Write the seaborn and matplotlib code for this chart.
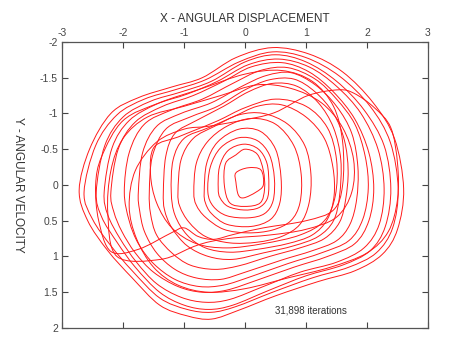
import numpy as np
import matplotlib
matplotlib.use('Agg')
import matplotlib.pyplot as plt
from matplotlib.path import Path
from matplotlib.patches import PathPatch
import seaborn as sns

# axis ticks / labels
x_ticks = [-3, -2, -1, 0, 1, 2, 3]
x_tick_labels = ['-3', '-2', '-1', '0', '1', '2', '3']
y_ticks = [-2, -1.5, -1, -0.5, 0, 0.5, 1, 1.5, 2]
y_tick_labels = ['-2', '-1.5', '-1', '-0.5', '0', '0.5', '1', '1.5', '2']
note = '31,898 iterations'

# phase portrait loops (x = angular displacement, y = angular velocity), outer -> inner
r01 = [(-2.72, 0.07), (-2.55, -0.5), (-2.2, -1.0), (-1.75, -1.22), (-1.2, -1.37), (-0.7, -1.5),
       (-0.15, -1.78), (0.45, -1.92), (1.05, -1.83), (1.6, -1.58), (2.1, -1.15), (2.45, -0.65),
       (2.6, 0.05), (2.5, 0.62), (2.25, 0.97), (1.8, 1.2), (1.2, 1.35), (0.5, 1.55), (-0.1, 1.75),
       (-0.55, 1.875), (-0.95, 1.83), (-1.4, 1.68), (-1.85, 1.3), (-2.25, 0.92), (-2.58, 0.5)]
r02 = [(-2.64, 0.1), (-2.45, -0.55), (-2.1, -0.98), (-1.65, -1.2), (-1.15, -1.33), (-0.65, -1.47),
       (-0.1, -1.72), (0.45, -1.86), (1.0, -1.78), (1.55, -1.52), (2.05, -1.1), (2.38, -0.6),
       (2.51, 0.05), (2.42, 0.6), (2.15, 0.95), (1.7, 1.15), (1.1, 1.3), (0.45, 1.5), (-0.15, 1.7),
       (-0.55, 1.78), (-0.95, 1.74), (-1.4, 1.58), (-1.85, 1.2), (-2.2, 0.85), (-2.5, 0.48)]
r03 = [(-2.44, 0.1), (-2.3, -0.55), (-2.0, -0.95), (-1.55, -1.17), (-1.05, -1.3), (-0.55, -1.45),
       (0.0, -1.72), (0.5, -1.82), (1.0, -1.72), (1.5, -1.45), (1.95, -1.05), (2.28, -0.55),
       (2.39, 0.05), (2.3, 0.58), (2.05, 0.92), (1.6, 1.12), (1.0, 1.27), (0.4, 1.47), (-0.2, 1.68),
       (-0.6, 1.74), (-1.0, 1.68), (-1.4, 1.5), (-1.8, 1.15), (-2.1, 0.8), (-2.35, 0.45)]
r04 = [(-2.31, 0.1), (-2.18, -0.52), (-1.9, -0.9), (-1.45, -1.13), (-0.95, -1.27), (-0.45, -1.45),
       (0.05, -1.68), (0.55, -1.76), (1.05, -1.65), (1.5, -1.38), (1.9, -1.0), (2.18, -0.5),
       (2.28, 0.05), (2.2, 0.55), (1.95, 0.88), (1.5, 1.08), (0.9, 1.22), (0.3, 1.42), (-0.25, 1.6),
       (-0.65, 1.64), (-1.05, 1.57), (-1.45, 1.38), (-1.78, 1.08), (-2.05, 0.75), (-2.25, 0.42)]
r05 = [(-2.2, 0.1), (-2.08, -0.5), (-1.8, -0.88), (-1.35, -1.1), (-0.85, -1.25), (-0.35, -1.45),
       (0.1, -1.65), (0.6, -1.71), (1.05, -1.58), (1.45, -1.3), (1.8, -0.92), (2.03, -0.45),
       (2.11, 0.05), (2.03, 0.5), (1.8, 0.82), (1.35, 1.0), (0.8, 1.15), (0.2, 1.33), (-0.3, 1.47),
       (-0.7, 1.5), (-1.1, 1.42), (-1.5, 1.22), (-1.8, 0.95), (-2.02, 0.65), (-2.15, 0.38)]
r06 = [(-1.98, 0.1), (-1.9, -0.45), (-1.65, -0.85), (-1.2, -1.05), (-0.7, -1.2), (-0.2, -1.42),
       (0.25, -1.6), (0.7, -1.64), (1.15, -1.48), (1.5, -1.2), (1.8, -0.85), (1.97, -0.4),
       (2.02, 0.05), (1.93, 0.48), (1.7, 0.78), (1.25, 0.95), (0.7, 1.1), (0.1, 1.28), (-0.35, 1.4),
       (-0.75, 1.42), (-1.15, 1.32), (-1.5, 1.1), (-1.75, 0.82), (-1.9, 0.5)]
r07 = [(-1.75, 0.1), (-1.68, -0.45), (-1.45, -0.82), (-1.05, -1.0), (-0.55, -1.15), (-0.05, -1.38),
       (0.35, -1.53), (0.75, -1.57), (1.15, -1.4), (1.5, -1.1), (1.75, -0.72), (1.85, -0.25),
       (1.83, 0.2), (1.72, 0.55), (1.5, 0.78), (1.1, 0.92), (0.6, 1.05), (0.0, 1.22), (-0.4, 1.32),
       (-0.8, 1.3), (-1.15, 1.18), (-1.45, 0.95), (-1.65, 0.65), (-1.73, 0.35)]
r08 = [(-1.57, 0.1), (-1.52, -0.4), (-1.3, -0.78), (-0.9, -0.95), (-0.45, -1.1), (0.0, -1.33),
       (0.4, -1.47), (0.8, -1.48), (1.15, -1.3), (1.45, -1.0), (1.63, -0.62), (1.69, -0.2),
       (1.65, 0.2), (1.55, 0.52), (1.3, 0.75), (0.9, 0.88), (0.4, 1.0), (-0.1, 1.13), (-0.5, 1.18),
       (-0.9, 1.12), (-1.2, 0.95), (-1.45, 0.7), (-1.55, 0.4)]
r09 = [(-1.34, 0.1), (-1.3, -0.4), (-1.15, -0.72), (-0.8, -0.9), (-0.35, -1.1), (0.05, -1.3),
       (0.45, -1.42), (0.85, -1.38), (1.2, -1.15), (1.45, -0.8), (1.57, -0.35), (1.55, 0.15),
       (1.45, 0.5), (1.2, 0.72), (0.8, 0.85), (0.3, 0.95), (-0.2, 1.04), (-0.6, 1.0), (-0.95, 0.85),
       (-1.2, 0.6), (-1.32, 0.35)]
r10 = [(-1.21, 0.1), (-1.18, -0.35), (-1.0, -0.65), (-0.6, -0.8), (-0.2, -0.95), (0.2, -1.1),
       (0.6, -1.12), (1.0, -0.95), (1.3, -0.65), (1.44, -0.25), (1.46, 0.15), (1.35, 0.48),
       (1.1, 0.7), (0.7, 0.82), (0.2, 0.9), (-0.25, 0.94), (-0.65, 0.88), (-0.95, 0.7), (-1.15, 0.42)]
r11 = [(-1.1, 0.1), (-1.05, -0.35), (-0.85, -0.65), (-0.5, -0.82), (-0.1, -0.98), (0.3, -1.0),
       (0.7, -0.85), (0.98, -0.55), (1.08, -0.15), (1.05, 0.25), (0.9, 0.55), (0.6, 0.72),
       (0.2, 0.8), (-0.25, 0.81), (-0.65, 0.72), (-0.92, 0.52), (-1.07, 0.3)]
r12 = [(-0.84, 0.1), (-0.8, -0.3), (-0.62, -0.6), (-0.3, -0.82), (0.1, -0.93), (0.5, -0.85),
       (0.8, -0.55), (0.92, -0.15), (0.9, 0.25), (0.75, 0.5), (0.45, 0.63), (0.05, 0.67),
       (-0.35, 0.62), (-0.65, 0.45), (-0.8, 0.28)]
r13 = [(-0.67, 0.1), (-0.63, -0.3), (-0.45, -0.6), (-0.1, -0.78), (0.25, -0.75), (0.5, -0.5),
       (0.59, -0.1), (0.57, 0.25), (0.42, 0.48), (0.1, 0.58), (-0.3, 0.55), (-0.55, 0.4), (-0.65, 0.25)]
r14 = [(-0.61, 0.1), (-0.57, -0.25), (-0.4, -0.52), (-0.1, -0.66), (0.2, -0.62), (0.4, -0.42),
       (0.48, -0.1), (0.46, 0.22), (0.32, 0.4), (0.05, 0.46), (-0.3, 0.43), (-0.52, 0.3)]
r15 = [(-0.44, 0.05), (-0.42, -0.25), (-0.28, -0.48), (-0.02, -0.57), (0.22, -0.5), (0.36, -0.3),
       (0.39, 0.0), (0.36, 0.2), (0.22, 0.32), (-0.02, 0.35), (-0.28, 0.3), (-0.41, 0.18)]
r16 = [(-0.34, 0.0), (-0.32, -0.3), (-0.15, -0.42), (0.0, -0.5), (0.2, -0.43), (0.3, -0.2),
       (0.32, 0.05), (0.25, 0.25), (0.0, 0.3), (-0.25, 0.25)]
r17 = [(-0.15, -0.17), (0.05, -0.24), (0.26, -0.21), (0.3, 0.0), (0.18, 0.1), (-0.02, 0.18),
       (-0.11, 0.14), (-0.15, -0.04)]

# lopsided loops where the trajectory drifts between levels
s1 = [(-0.6, -0.82), (-0.07, -0.9), (0.48, -1.01), (1.03, -1.25), (1.53, -1.33), (1.79, -1.28),
      (2.12, -1.08), (2.39, -0.8), (2.5, -0.3), (2.5, 0.2), (2.35, 0.65), (2.0, 0.95), (1.4, 1.15),
      (0.7, 1.3), (0.0, 1.45), (-0.6, 1.5), (-1.1, 1.4), (-1.5, 1.15), (-1.78, 0.75), (-1.9, 0.3),
      (-1.8, -0.2), (-1.45, -0.6), (-1.0, -0.78)]
s2 = [(-2.45, 0.0), (-2.35, -0.4), (-2.0, -0.9), (-1.4, -1.15), (-0.7, -1.35), (0.0, -1.55),
      (0.6, -1.6), (1.1, -1.45), (1.45, -1.1), (1.6, -0.6), (1.6, 0.0), (1.45, 0.35), (1.0, 0.5),
      (0.3, 0.6), (-0.18, 0.69), (-0.51, 0.76), (-0.77, 0.72), (-1.0, 0.6), (-1.21, 0.67),
      (-1.75, 0.9), (-2.2, 0.93), (-2.4, 0.5)]
s3 = [(-1.49, -0.53), (-1.1, -0.67), (-0.84, -0.76), (-0.44, -0.9), (0.0, -1.08), (0.5, -1.2),
      (1.0, -1.1), (1.35, -0.8), (1.5, -0.35), (1.48, 0.15), (1.3, 0.5), (0.9, 0.7), (0.3, 0.82),
      (-0.3, 0.88), (-0.8, 0.82), (-1.2, 0.6), (-1.45, 0.25), (-1.55, -0.15)]
s4 = [(-2.1, 1.0), (-1.38, 1.04), (-0.84, 0.86), (-0.56, 0.79), (-0.18, 0.74), (0.4, 0.7),
      (1.0, 0.62), (1.5, 0.45), (1.75, 0.1), (1.78, -0.35), (1.6, -0.8), (1.25, -1.15),
      (0.75, -1.35), (0.2, -1.4), (-0.4, -1.25), (-1.0, -1.1), (-1.6, -0.95), (-2.0, -0.65),
      (-2.2, -0.2), (-2.25, 0.4)]

rings = [r01, r02, r03, r04, r05, r06, r07, r08, r09, r10, r11, r12, r13, r14, r15, r16, r17,
         s1, s2, s3, s4]


def smooth_path(pts):
    # closed Catmull-Rom curve through the listed points, drawn as cubic Beziers
    p = np.asarray(pts, float)
    n = len(p)
    ext = np.vstack([p[-1], p, p[0], p[1]])
    verts = [p[0]]
    codes = [Path.MOVETO]
    for i in range(n):
        a, b, c, d = ext[i], ext[i + 1], ext[i + 2], ext[i + 3]
        verts += [b + (c - a) / 6, c - (d - b) / 6, c]
        codes += [Path.CURVE4] * 3
    return Path(verts, codes)


sns.set_style('ticks')
plt.rcParams['font.family'] = ['Liberation Sans', 'DejaVu Sans']

fig = plt.figure(figsize=(4.74, 3.55), dpi=100)
ax = fig.add_axes([0.131, 0.076, 0.772, 0.806])

red = '#ff1a1a'
for r in rings:
    ax.add_patch(PathPatch(smooth_path(r), fill=False, ec=red, lw=0.7))

ax.set_xlim(-3, 3)
ax.set_ylim(2, -2)
ax.set_xticks(x_ticks)
ax.set_xticklabels(x_tick_labels)
ax.set_yticks(y_ticks)
ax.set_yticklabels(y_tick_labels)
ax.xaxis.tick_top()
ax.xaxis.set_label_position('top')
ax.tick_params(direction='in', length=4, width=0.8, top=True, bottom=True, left=True, right=True,
               labeltop=True, labelbottom=False, labelsize=7.5, colors='#444444', pad=3)
for s in ax.spines.values():
    s.set_visible(True)
    s.set_color('#555555')
    s.set_linewidth(0.9)

ax.set_xlabel('X - ANGULAR DISPLACEMENT', fontsize=8.5, color='#333333', labelpad=4)
ax.set_ylabel('Y - ANGULAR VELOCITY', fontsize=8.5, color='#333333', rotation=270, va='center')
ax.yaxis.set_label_coords(-0.12, 0.5)

ax.text(1.08, 1.76, note, fontsize=7, color='#333333', ha='center', va='center')

fig.savefig('out.png', dpi=100)
